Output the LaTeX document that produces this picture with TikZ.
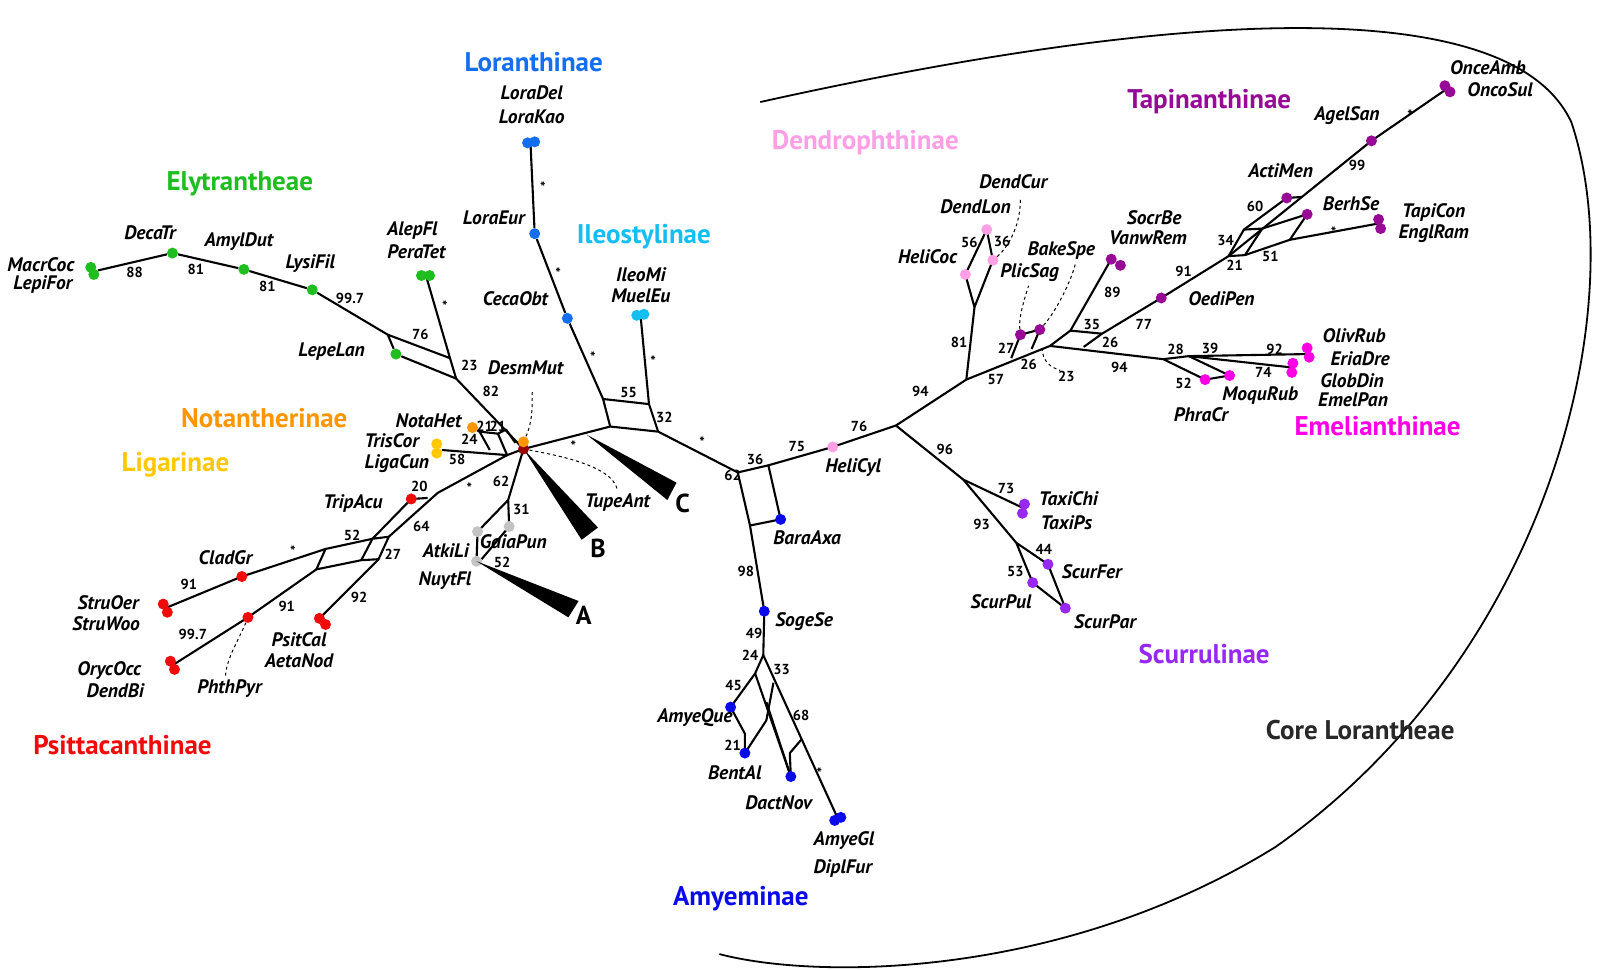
\documentclass[tikz,border=0pt]{standalone}
\usepackage{fontspec}
\setmainfont{PT Sans}
\begin{document}
\begin{tikzpicture}[x=1.0204pt,y=-1.0204pt,
  br/.style={line width=2.1pt,black,line join=round},
  dsh/.style={dashed,line width=1pt},
  dot/.style={circle,fill=#1,inner sep=0pt,minimum size=11pt},
  tx/.style={font=\fontsize{19.5}{20}\selectfont\bfseries\itshape,inner sep=0pt},
  nm/.style={font=\fontsize{14.5}{15}\selectfont\bfseries,inner sep=0pt},
  grp/.style={font=\fontsize{27}{29}\selectfont\bfseries,text=#1,inner sep=0pt},
  wedge/.style={fill=black}]
\useasboundingbox (0,0) rectangle (1568,950);
\definecolor{cLor}{RGB}{20,110,240}\definecolor{cIle}{RGB}{20,190,240}
\definecolor{cEly}{RGB}{30,190,30}\definecolor{cNot}{RGB}{255,150,0}
\definecolor{cLig}{RGB}{255,200,0}\definecolor{cPsi}{RGB}{240,10,10}
\definecolor{cDen}{RGB}{255,160,230}\definecolor{cTap}{RGB}{150,10,150}
\definecolor{cEme}{RGB}{255,0,230}\definecolor{cScu}{RGB}{150,40,240}
\definecolor{cAmy}{RGB}{10,10,235}\definecolor{cGry}{RGB}{195,195,195}
\definecolor{cHub}{RGB}{150,0,0}\definecolor{cCore}{RGB}{40,40,40}
% core boundary
\draw[line width=1.8pt] (745,100) .. controls (1150,10) and (1480,-10) .. (1540,120) .. controls (1600,300) and (1520,640) .. (1250,830) .. controls (1040,960) and (800,960) .. (705,935);
% ---------- coordinates ----------
\coordinate (hub) at (513,440);
\coordinate (pl) at (497,446);
\coordinate (j82) at (447,371);
\coordinate (j76) at (441,351);
\coordinate (jE) at (380,328);
\coordinate (jr1) at (598,418);
\coordinate (jr2) at (645,423);
\coordinate (jL) at (591,391);
\coordinate (jI) at (636,396);
\coordinate (n36) at (723,463);
\coordinate (n36b) at (753,456);
\coordinate (nB) at (735,515);
\coordinate (R) at (878,417);
% ---------- centre ----------
\draw[br] (hub) -- (pl) -- (429,483) -- (381,526);
\node[dot=cLig] (tris1) at (428,435) {};
\node[dot=cLig] (tris2) at (428,444) {};
\draw[br] (433,441) -- (pl);
\node[dot=cNot] (nota) at (463,419) {};
\coordinate (nt1) at (470,423); \coordinate (nt2) at (488,425); \coordinate (nt3) at (496,421);
\draw[br] (nota) -- (nt1) -- (nt2) -- (nt3) -- (505,434);
\draw[br] (nt1) -- (480,441); \draw[br] (nt2) -- (pl);
\draw[br] (hub) -- (j82) -- (j76) -- (418,272);
\node[dot=cEly] (alep1) at (413,270) {}; \node[dot=cEly] (alep2) at (421,270) {};
\draw[br] (j76) -- (jE);
\node[dot=cEly] (lepe) at (388,347) {};
\draw[br] (jE) -- (lepe) -- (j82);
\node[dot=cEly] (lysi) at (306,284) {};
\node[dot=cEly] (amyl) at (239,264) {};
\node[dot=cEly] (deca) at (169,248) {};
\node[dot=cEly] (macr1) at (89,262) {}; \node[dot=cEly] (macr2) at (92,269) {};
\draw[br] (jE) -- (lysi) -- (amyl) -- (deca) -- (96,265);
% wedges
\coordinate (j62) at (498,490);
\draw[br] (hub) -- (j62) -- (499,516) -- (472,548); \draw[br] (j62) -- (468,521) -- (467,550);
\node[dot=cGry] (atki) at (468,521) {};
\node[dot=cGry] (gaia) at (499,516) {};
\node[dot=cGry] (nuyt) at (467,550) {};
\fill[wedge] (467,550) -- (567,589) -- (557,605) -- cycle;
\fill[wedge] (hub) -- (586,517) -- (570,529) -- cycle;
\fill[wedge] (575,426) -- (663,473) -- (654,490) -- cycle;
\node[font=\fontsize{26}{26}\selectfont\bfseries] (lA) at (572,603) {A};
\node[font=\fontsize{26}{26}\selectfont\bfseries] (lB) at (586,537) {B};
\node[font=\fontsize{26}{26}\selectfont\bfseries] (lC) at (669,493) {C};
\draw[dsh] (513,433) .. controls (525,410) and (520,390) .. (522,382);
\draw[dsh] (hub) .. controls (540,445) and (600,455) .. (605,480);
% Lor / Ileo
\draw[br] (hub) -- (jr1) -- (jr2) -- (n36);
\draw[br] (jr1) -- (jL) -- (jI) -- (jr2);
\node[dot=cHub] (hubd) at (hub) {};
\node[dot=cNot] (desm) at (513,433) {};
\node[dot=cLor] (ceca) at (556,312) {};
\node[dot=cLor] (lorae) at (524,229) {};
\draw[br] (jL) -- (ceca) -- (lorae) -- (520,143);
\node[dot=cLor] (lorad1) at (517,140) {}; \node[dot=cLor] (lorad2) at (524,139) {};
\draw[br] (jI) -- (628,312);
\node[dot=cIle] (ileo1) at (624,309) {}; \node[dot=cIle] (ileo2) at (631,308) {};
% Psittacanthinae
\coordinate (pp1) at (365,528); \coordinate (pp2) at (381,526);
\coordinate (pp3) at (371,548); \coordinate (pp4) at (354,549);
\draw[br] (403,489) -- (419,488);
\draw[br] (403,489) -- (pp1) -- (pp2) -- (pp3) -- (pp4) -- (pp1);
\node[dot=cPsi] (trip) at (403,489) {};
\coordinate (c1) at (319,538); \coordinate (c2) at (310,558);
\draw[br] (pp1) -- (c1) -- (c2) -- (pp4);
\draw[br] (c1) -- (237,565) -- (162,596);
\node[dot=cPsi] (clad) at (237,565) {};
\node[dot=cPsi] (stru1) at (160,592) {}; \node[dot=cPsi] (stru2) at (164,600) {};
\draw[br] (c2) -- (243,605) -- (169,652);
\node[dot=cPsi] (phth) at (243,605) {};
\node[dot=cPsi] (oryc1) at (167,648) {}; \node[dot=cPsi] (oryc2) at (171,656) {};
\draw[br] (pp3) -- (313,606);
\node[dot=cPsi] (psit1) at (313,606) {}; \node[dot=cPsi] (psit2) at (319,612) {};
\draw[dsh] (phth) .. controls (235,625) and (222,645) .. (221,662);
% Amyeminae
\draw[br] (n36) -- (n36b) -- (816,438) -- (R);
\node[dot=cDen] (heli) at (816,438) {};
\draw[br] (n36b) -- (765,509) -- (nB);
\node[dot=cAmy] (bara) at (765,509) {};
\coordinate (atop) at (748,642);
\draw[br] (n36) -- (nB) -- (749,599) -- (atop);
\node[dot=cAmy] (soge) at (749,599) {};
\coordinate (aa) at (740,660); \coordinate (ab) at (758,669); \coordinate (ad) at (751,706);
\coordinate (ae) at (730,719); \coordinate (af) at (774,738); \coordinate (ag) at (786,724);
\draw[br] (atop) -- (aa) -- (716,693) -- (ae) -- (730,738) -- (ad) -- (ab);
\draw[br] (atop) -- (821,802);
\draw[br] (aa) -- (775,761); \draw[br] (751,688) -- (775,761);
\draw[br] (ag) -- (af) -- (775,761);
\node[dot=cAmy] (amyq) at (716,693) {};
\node[dot=cAmy] (bent) at (730,738) {};
\node[dot=cAmy] (dact) at (775,761) {};
\node[dot=cAmy] (amyg1) at (818,804) {}; \node[dot=cAmy] (amyg2) at (824,801) {};
% Dendrophthinae etc
\coordinate (j57) at (947,372);
\coordinate (j81) at (955,301);
\draw[br] (R) -- (j57) -- (j81);
\draw[br] (j81) -- (946,269) -- (967,225) -- (973,255) -- (j81);
\node[dot=cDen] (helc) at (946,269) {};
\node[dot=cDen] (plic) at (973,255) {};
\node[dot=cDen] (dlon) at (967,225) {};
\draw[dsh] (plic) .. controls (985,245) and (1000,225) .. (1000,195);
\coordinate (j26) at (1029,339);
\coordinate (k1) at (991,351); \coordinate (k2) at (1011,342);
\draw[br] (j57) -- (j26);
\draw[br] (k1) -- (1000,328) -- (1019,323) -- (k2);
\node[dot=cTap] (t1) at (1000,328) {};
\node[dot=cTap] (t2) at (1019,323) {};
\draw[dsh] (t1) .. controls (998,310) and (1005,290) .. (1008,280);
\draw[dsh] (t2) .. controls (1035,305) and (1050,275) .. (1054,258);
\draw[dsh] (1021,341) .. controls (1022,355) and (1030,360) .. (1039,363);
\coordinate (m1) at (1049,324); \coordinate (m2) at (1080,327); \coordinate (m3) at (1062,340);
\draw[br] (j26) -- (m1) -- (1089,254); \draw[br] (m1) -- (m2);
\node[dot=cTap] (socr1) at (1089,254) {}; \node[dot=cTap] (socr2) at (1098,260) {};
\coordinate (j21) at (1204,251);
\draw[br] (m3) -- (m2) -- (1138,292) -- (j21) -- (1344,138) -- (1418,87);
\node[dot=cTap] (oedi) at (1138,292) {};
\node[dot=cTap] (agel) at (1344,138) {};
\node[dot=cTap] (once1) at (1416,84) {}; \node[dot=cTap] (once2) at (1421,90) {};
\coordinate (q1) at (1219,225); \coordinate (q2) at (1237,224); \coordinate (q3) at (1220,250);
\coordinate (q5) at (1264,235);
\draw[br] (j21) -- (q1) -- (1261,194) -- (1276,193); \draw[br] (q1) -- (q2) -- (q3) -- (j21);
\draw[br] (q2) -- (1281,210) -- (q5);
\draw[br] (q3) -- (q5) -- (1351,219);
\node[dot=cTap] (acti) at (1261,194) {};
\node[dot=cTap] (berh) at (1281,210) {};
\node[dot=cTap] (tapi1) at (1351,215) {}; \node[dot=cTap] (tapi2) at (1353,224) {};
% Emelianthinae
\coordinate (e1) at (1140,352); \coordinate (e2) at (1165,349);
\draw[br] (j26) -- (e1) -- (e2) -- (1280,347);
\draw[br] (e1) -- (1181,372) -- (1205,368) -- (e2); \draw[br] (e2) -- (1265,360);
\node[dot=cEme] (phra) at (1181,372) {};
\node[dot=cEme] (moqu) at (1205,368) {};
\node[dot=cEme] (oliv1) at (1281,341) {}; \node[dot=cEme] (oliv2) at (1283,350) {};
\node[dot=cEme] (glob1) at (1267,356) {}; \node[dot=cEme] (glob2) at (1266,365) {};
% Scurrulinae
\coordinate (s1) at (944,470); \coordinate (s2) at (996,532);
\draw[br] (R) -- (s1) -- (s2) -- (1027,553) -- (1044,596) -- (1012,571) -- (s2);
\draw[br] (s1) -- (1003,498);
\node[dot=cScu] (taxi1) at (1004,494) {}; \node[dot=cScu] (taxi2) at (1002,503) {};
\node[dot=cScu] (sfer) at (1027,553) {};
\node[dot=cScu] (spul) at (1012,571) {};
\node[dot=cScu] (spar) at (1044,596) {};
% ---------- group labels ----------
\node[grp=cLor] (gLor) at (523,61) {Loranthinae};
\node[grp=cEly] (gEly) at (235,180) {Elytrantheae};
\node[grp=cIle] (gIle) at (631,232) {Ileostylinae};
\node[grp=cNot] (gNot) at (259,410) {Notantherinae};
\node[grp=cLig] (gLig) at (172,455) {Ligarinae};
\node[grp=cPsi] (gPsi) at (120,730) {Psittacanthinae};
\node[grp=cDen] (gDen) at (848,140) {Dendrophthinae};
\node[grp=cTap] (gTap) at (1185,100) {Tapinanthinae};
\node[grp=cEme] (gEme) at (1350,418) {Emelianthinae};
\node[grp=cScu] (gScu) at (1180,641) {Scurrulinae};
\node[grp=cAmy] (gAmy) at (726,881) {Amyeminae};
\node[grp=cCore] (gCore) at (1333,715) {Core Lorantheae};
% ---------- taxon labels ----------
\foreach \p/\t in {{(521,91)}/LoraDel,{(521,114)}/LoraKao,{(484,213)}/LoraEur,{(505,293)}/CecaObt,
 {(628,269)}/IleoMi,{(628,290)}/MuelEu,{(515,360)}/DesmMut,{(420,412)}/NotaHet,{(384,432)}/TrisCor,
 {(389,454)}/LigaCun,{(605,493)}/TupeAnt,{(346,493)}/TripAcu,{(221,547)}/CladGr,{(106,591)}/StruOer,
 {(104,611)}/StruWoo,{(107,657)}/OrycOcc,{(113,677)}/DendBi,{(225,675)}/PhthPyr,{(293,627)}/PsitCal,
 {(293,648)}/AetaNod,{(437,540)}/AtkiLi,{(503,531)}/GaiaPun,{(436,569)}/NuytFl,{(40,259)}/MacrCoc,
 {(42,279)}/LepiFor,{(147,228)}/DecaTr,{(234,237)}/AmylDut,{(304,258)}/LysiFil,{(404,226)}/AlepFl,
 {(408,247)}/PeraTet,{(325,345)}/LepeLan,{(836,458)}/HeliCyl,{(791,527)}/BaraAxa,{(788,609)}/SogeSe,
 {(681,703)}/AmyeQue,{(720,757)}/BentAl,{(763,787)}/DactNov,{(827,824)}/AmyeGl,{(826,851)}/DiplFur,
 {(993,178)}/DendCur,{(956,203)}/DendLon,{(909,252)}/HeliCoc,{(1009,267)}/PlicSag,{(1040,245)}/BakeSpe,
 {(1131,213)}/SocrBe,{(1125,233)}/VanwRem,{(1197,293)}/OediPen,{(1320,113)}/AgelSan,{(1255,167)}/ActiMen,
 {(1324,200)}/BerhSe,{(1405,208)}/TapiCon,{(1405,229)}/EnglRam,{(1458,66)}/OnceAmb,{(1470,88)}/OncoSul,
 {(1327,329)}/OlivRub,{(1333,352)}/EriaDre,{(1325,373)}/GlobDin,{(1326,392)}/EmelPan,{(1235,388)}/MoquRub,
 {(1177,406)}/PhraCr,{(1047,489)}/TaxiChi,{(1045,512)}/TaxiPs,{(1070,560)}/ScurFer,{(981,590)}/ScurPul,
 {(1083,609)}/ScurPar}
 {\node[tx] (t-\t) at \p {\t};}
% ---------- support values ----------
\foreach \p/\t [count=\i] in {{(132,267)}/88,{(192,264)}/81,{(262,281)}/81,{(343,292)}/99.7,{(412,328)}/76,
 {(460,358)}/23,{(481,384)}/82,{(475,418)}/21,{(488,418)}/21,{(460,431)}/24,{(448,450)}/58,
 {(436,300)}/*,{(532,183)}/*,{(547,268)}/*,{(581,350)}/*,{(640,354)}/*,{(616,385)}/55,{(651,409)}/32,
 {(688,433)}/*,{(562,437)}/*,{(491,472)}/62,{(511,499)}/31,{(492,551)}/52,{(411,477)}/20,{(413,516)}/64,
 {(385,543)}/27,{(345,525)}/52,{(287,540)}/*,{(185,573)}/91,{(281,594)}/91,{(189,622)}/99.7,{(352,585)}/92,
 {(460,478)}/*,{(740,450)}/36,{(781,438)}/75,{(842,418)}/76,{(718,466)}/62,{(731,560)}/98,{(739,621)}/49,
 {(735,642)}/24,{(766,656)}/33,{(719,672)}/45,{(785,701)}/68,{(718,730)}/21,{(803,758)}/*,
 {(902,384)}/94,{(940,336)}/81,{(950,238)}/56,{(982,237)}/36,{(986,341)}/27,{(976,372)}/57,{(1008,357)}/26,
 {(1045,369)}/23,{(1090,287)}/89,{(1070,318)}/35,{(1088,336)}/26,{(1121,318)}/77,{(1097,360)}/94,
 {(1160,266)}/91,{(1152,342)}/28,{(1186,341)}/39,{(1249,342)}/92,{(1238,365)}/74,{(1160,376)}/52,
 {(1201,236)}/34,{(1210,260)}/21,{(1245,251)}/51,{(1230,202)}/60,{(1330,162)}/99,{(1382,113)}/*,
 {(1307,228)}/*,{(926,440)}/96,{(986,479)}/73,{(962,514)}/93,{(1023,538)}/44,{(995,560)}/53}
 {\node[nm] (s\i) at \p {\t};}
\end{tikzpicture}
\end{document}
